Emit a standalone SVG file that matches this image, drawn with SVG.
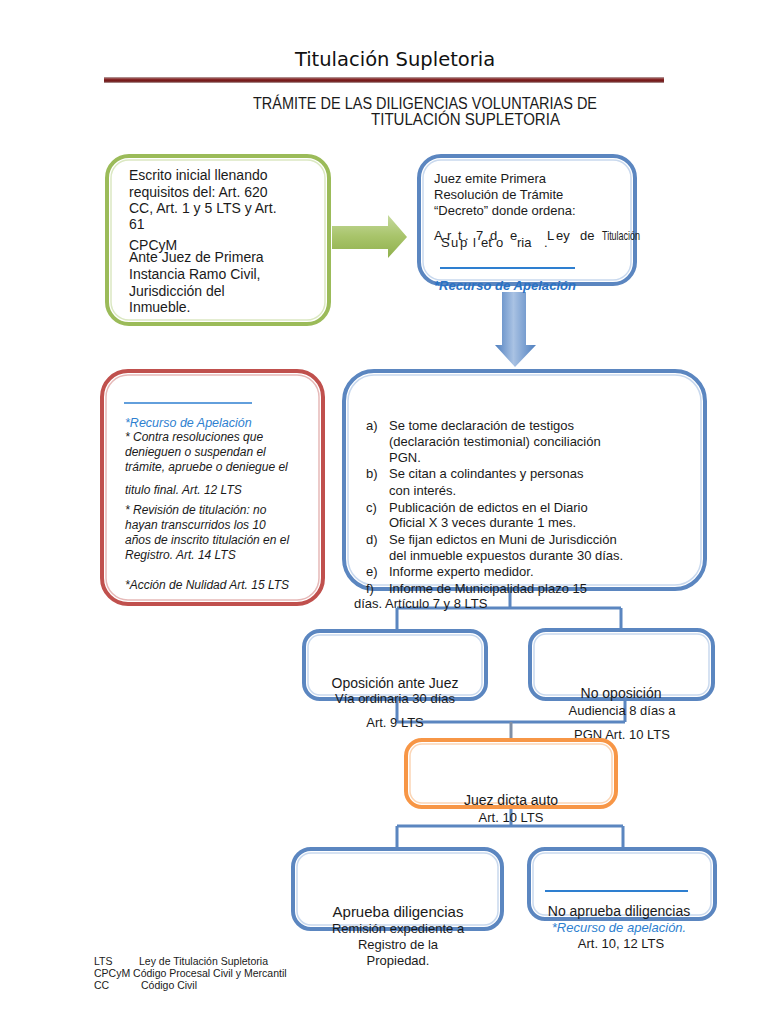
<svg xmlns="http://www.w3.org/2000/svg" width="768" height="1024" viewBox="0 0 768 1024">
<defs>
<linearGradient id="gArrow" x1="0" y1="0" x2="0" y2="1">
<stop offset="0" stop-color="#c6da9e"/>
<stop offset="0.5" stop-color="#a8c46a"/>
<stop offset="1" stop-color="#8fb04c"/>
</linearGradient>
<linearGradient id="bArrow" x1="0" y1="0" x2="1" y2="0">
<stop offset="0" stop-color="#4f7fbf"/>
<stop offset="0.45" stop-color="#a9c2e3"/>
<stop offset="1" stop-color="#4f7fbf"/>
</linearGradient>
<linearGradient id="rule" x1="0" y1="0" x2="0" y2="1">
<stop offset="0" stop-color="#b8a9a9"/>
<stop offset="0.35" stop-color="#8a2a2a"/>
<stop offset="0.7" stop-color="#6e1414"/>
<stop offset="1" stop-color="#b8a9a9"/>
</linearGradient>
</defs>
<style>
.t{font-family:"Liberation Sans",Arial,sans-serif;fill:#1a1a1a}
.s13{font-size:13px}
.s14{font-size:14px}
.s12{font-size:12px}
.it{font-style:italic}
.blue{fill:#2e7fd0}
.bx{fill:#fff;stroke:#5b86c0;stroke-width:4}
.bxi{fill:none;stroke:#c9d9ee;stroke-width:1.5}
.gx{fill:#fff;stroke:#9bbb59;stroke-width:4}
.gxi{fill:none;stroke:#dbe8c2;stroke-width:1.5}
.rx{fill:#fff;stroke:#c0504d;stroke-width:4}
.rxi{fill:none;stroke:#e6b9b8;stroke-width:1.5}
.ox{fill:#fff;stroke:#f79646;stroke-width:4}
.oxi{fill:none;stroke:#fbd5b5;stroke-width:1.5}
.con{fill:none;stroke:#5b86c0;stroke-width:3}
.bl{stroke:#2e7fd0;stroke-width:2}
</style>
<rect x="0" y="0" width="768" height="1024" fill="#fff"/>

<g id="header">
<text x="395" y="66" text-anchor="middle" style="font-family:'DejaVu Sans',sans-serif;font-size:19.5px;fill:#111">Titulación Supletoria</text>
<rect x="104" y="77" width="560" height="6" fill="url(#rule)"/>
<text class="t" x="253" y="109" style="font-size:16px" textLength="344" lengthAdjust="spacingAndGlyphs">TRÁMITE DE LAS DILIGENCIAS VOLUNTARIAS DE</text>
<text class="t" x="371" y="125" style="font-size:16px" textLength="189" lengthAdjust="spacingAndGlyphs">TITULACIÓN SUPLETORIA</text>
</g>

<g id="connectors">
<path d="M332 226 H388 V215 L407 237 L388 258 V249 H332 Z" fill="url(#gArrow)"/>
<path d="M502 292 H526 V345 H536 L515 367 L495 345 H502 Z" fill="url(#bArrow)"/>
<path class="con" d="M510 590 V608 M397 608 H621 M397 608 V631 M621 608 V629"/>
<path class="con" d="M397 700 V722 M625 700 V722 M397 722 H625"/>
<path d="M511 722 V740" fill="none" stroke="#7f8fa6" stroke-width="3"/>
<path class="con" d="M511 808 V826 M397 826 H623 M397 826 V848 M623 826 V848"/>
</g>

<g id="node-escrito">
<rect class="gx" x="107" y="156" width="222" height="168" rx="22"/>
<rect class="gxi" x="111" y="160" width="214" height="160" rx="18"/>
<text class="t s14" x="129" y="180">Escrito inicial llenando</text>
<text class="t s14" x="129" y="197">requisitos del: Art. 620</text>
<text class="t s14" x="129" y="213">CC, Art. 1 y 5 LTS y Art.</text>
<text class="t s14" x="129" y="229">61</text>
<text class="t s14" x="129" y="250">CPCyM</text>
<text class="t s14" x="129" y="262">Ante Juez de Primera</text>
<text class="t s14" x="129" y="279">Instancia Ramo Civil,</text>
<text class="t s14" x="129" y="296">Jurisdicción del</text>
<text class="t s14" x="129" y="312">Inmueble.</text>
</g>

<g id="node-juez-emite">
<rect class="bx" x="419" y="156" width="216" height="128" rx="22"/>
<rect class="bxi" x="423" y="160" width="208" height="120" rx="18"/>
<text class="t s13" x="434" y="183">Juez emite Primera</text>
<text class="t s13" x="434" y="199">Resolución de Trámite</text>
<text class="t s13" x="434" y="215">“Decreto” donde ordena:</text>
<text class="t s13" y="240"><tspan x="434">A</tspan><tspan x="447">r</tspan><tspan x="458">t</tspan><tspan x="465">.</tspan><tspan x="476">7</tspan><tspan x="490">d</tspan><tspan x="510">e</tspan><tspan x="547">L</tspan><tspan x="556">ey</tspan><tspan x="580">de</tspan><tspan x="602" textLength="38" lengthAdjust="spacingAndGlyphs">Titulación</tspan></text>
<text class="t s13" y="247"><tspan x="441">S</tspan><tspan x="451">u</tspan><tspan x="460">p</tspan><tspan x="473">l</tspan><tspan x="481">et</tspan><tspan x="496">o</tspan><tspan x="517">ria</tspan><tspan x="544">.</tspan></text>
<line class="bl" x1="440" y1="268" x2="575" y2="268"/>
<text class="t s13 it blue" x="434" y="290" style="font-weight:bold;fill:#2a72c4" textLength="142">*Recurso de Apelación</text>
</g>

<g id="node-recursos">
<rect class="rx" x="102" y="371" width="221" height="233" rx="26"/>
<rect class="rxi" x="106" y="375" width="213" height="225" rx="22"/>
<line x1="124" y1="403" x2="252" y2="403" stroke="#2e7fd0" stroke-width="1.5"/>
<text class="t s12 it blue" x="125" y="427" style="font-size:12.5px">*Recurso de Apelación</text>
<text class="t s12 it" x="125" y="441">* Contra resoluciones que</text>
<text class="t s12 it" x="125" y="456">denieguen o suspendan el</text>
<text class="t s12 it" x="125" y="471">trámite, apruebe o deniegue el</text>
<text class="t s12 it" x="125" y="494">titulo final. Art. 12 LTS</text>
<text class="t s12 it" x="125" y="514">* Revisión de titulación: no</text>
<text class="t s12 it" x="125" y="529">hayan transcurridos los 10</text>
<text class="t s12 it" x="125" y="544">años de inscrito titulación en el</text>
<text class="t s12 it" x="125" y="559">Registro. Art. 14 LTS</text>
<text class="t s12 it" x="125" y="589">*Acción de Nulidad Art. 15 LTS</text>
</g>

<g id="node-diligencias">
<rect class="bx" x="344" y="371" width="361" height="218" rx="30"/>
<rect class="bxi" x="348" y="375" width="353" height="210" rx="26"/>
<text class="t s13" x="366" y="430">a)</text><text class="t s13" x="389" y="430">Se tome declaración de testigos</text>
<text class="t s13" x="389" y="446">(declaración testimonial) conciliación</text>
<text class="t s13" x="389" y="462">PGN.</text>
<text class="t s13" x="366" y="478">b)</text><text class="t s13" x="389" y="478">Se citan a colindantes y personas</text>
<text class="t s13" x="389" y="495">con interés.</text>
<text class="t s13" x="366" y="512">c)</text><text class="t s13" x="389" y="512">Publicación de edictos en el Diario</text>
<text class="t s13" x="389" y="527">Oficial X 3 veces durante 1 mes.</text>
<text class="t s13" x="366" y="544">d)</text><text class="t s13" x="389" y="544">Se fijan edictos en Muni de Jurisdicción</text>
<text class="t s13" x="389" y="560">del inmueble expuestos durante 30 días.</text>
<text class="t s13" x="366" y="576">e)</text><text class="t s13" x="389" y="576">Informe experto medidor.</text>
<text class="t s13" x="366" y="593">f)</text><text class="t s13" x="389" y="593">Informe de Municipalidad plazo 15</text>
<text class="t s13" x="354" y="608">días. Artículo 7 y 8 LTS</text>
</g>

<g id="node-oposicion">
<rect class="bx" x="304" y="631" width="182" height="68" rx="16"/>
<rect class="bxi" x="308" y="635" width="174" height="60" rx="12"/>
<text class="t s14" x="395" y="688" text-anchor="middle">Oposición ante Juez</text>
<text class="t s13" x="395" y="703" text-anchor="middle">Vía ordinaria 30 días</text>
<text class="t s13" x="395" y="727" text-anchor="middle">Art. 9 LTS</text>
</g>

<g id="node-no-oposicion">
<rect class="bx" x="530" y="630" width="183" height="69" rx="16"/>
<rect class="bxi" x="534" y="634" width="175" height="61" rx="12"/>
<text class="t s14" x="621" y="698" text-anchor="middle">No oposición</text>
<text class="t s13" x="622" y="715" text-anchor="middle">Audiencia 8 días a</text>
<text class="t s13" x="622" y="739" text-anchor="middle">PGN Art. 10 LTS</text>
</g>

<g id="node-juez-auto">
<rect class="ox" x="406" y="740" width="210" height="67" rx="16"/>
<rect class="oxi" x="410" y="744" width="202" height="59" rx="12"/>
<text class="t s14" x="511" y="805" text-anchor="middle">Juez dicta auto</text>
<text class="t s13" x="511" y="822" text-anchor="middle">Art. 10 LTS</text>
</g>

<g id="node-aprueba">
<rect class="bx" x="293" y="849" width="209" height="80" rx="18"/>
<rect class="bxi" x="297" y="853" width="201" height="72" rx="14"/>
<text class="t" x="398" y="917" text-anchor="middle" style="font-size:15px">Aprueba diligencias</text>
<text class="t s13" x="398" y="933" text-anchor="middle">Remisión expediente a</text>
<text class="t s13" x="398" y="949" text-anchor="middle">Registro de la</text>
<text class="t s13" x="398" y="965" text-anchor="middle">Propiedad.</text>
</g>

<g id="node-no-aprueba">
<rect class="bx" x="529" y="849" width="186" height="70" rx="16"/>
<rect class="bxi" x="533" y="853" width="178" height="62" rx="12"/>
<line class="bl" x1="545" y1="891" x2="688" y2="891"/>
<text class="t s14" x="619" y="916" text-anchor="middle">No aprueba diligencias</text>
<text class="t s13 it blue" x="619" y="932" text-anchor="middle">*Recurso de apelación.</text>
<text class="t s13" x="621" y="948" text-anchor="middle">Art. 10, 12 LTS</text>
</g>

<g id="legend">
<text class="t" x="94" y="965" style="font-size:10.5px">LTS</text>
<text class="t" x="139" y="965" style="font-size:10.5px">Ley de Titulación Supletoria</text>
<text class="t" x="94" y="977" style="font-size:10.5px">CPCyM  Código Procesal Civil y Mercantil</text>
<text class="t" x="94" y="989" style="font-size:10.5px">CC</text>
<text class="t" x="141" y="989" style="font-size:10.5px">Código Civil</text>
</g>
</svg>
